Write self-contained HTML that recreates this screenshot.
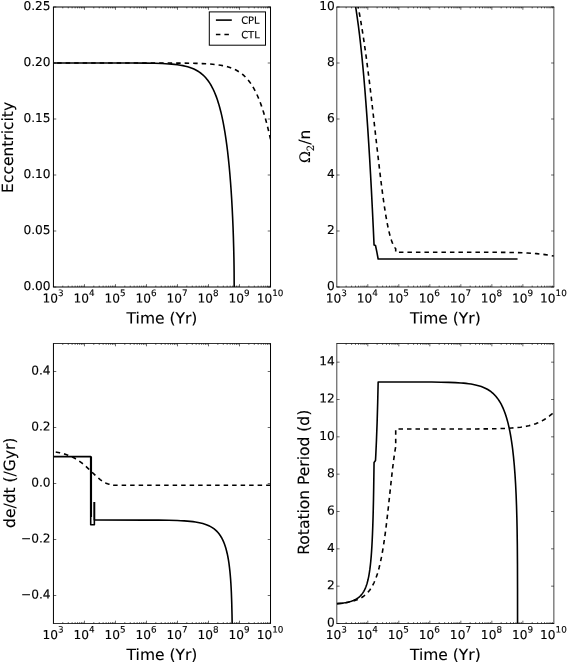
<!DOCTYPE html>
<html><head><meta charset="utf-8"><title>Tidal evolution: CPL vs CTL</title>
<style>html,body{margin:0;padding:0;background:#fff}svg{display:block}</style></head>
<body>
<svg width="568" height="662" viewBox="0 0 568 662" font-family='"DejaVu Sans","Liberation Sans",sans-serif' fill="#000">
<style>text{stroke:#000;stroke-width:0.12px}</style>
<rect width="568" height="662" fill="#fff"/>
<defs>
<clipPath id="c00"><rect x="53.45" y="7.00" width="217.07" height="280.00"/></clipPath>
<clipPath id="c01"><rect x="53.45" y="343.50" width="217.07" height="280.00"/></clipPath>
<clipPath id="c10"><rect x="336.80" y="7.00" width="217.07" height="280.00"/></clipPath>
<clipPath id="c11"><rect x="336.80" y="343.50" width="217.07" height="280.00"/></clipPath>
</defs>
<path d="M53.45 63.00 L119.10 63.02 L134.01 63.07 L144.94 63.16 L154.57 63.32 L162.31 63.57 L165.71 63.74 L168.82 63.93 L171.72 64.15 L174.47 64.41 L177.51 64.77 L180.33 65.18 L182.94 65.65 L185.40 66.19 L187.72 66.79 L189.89 67.46 L191.99 68.22 L193.94 69.05 L195.82 69.97 L197.63 70.99 L199.37 72.11 L200.96 73.27 L202.55 74.59 L204.07 76.02 L205.52 77.54 L206.90 79.16 L207.77 80.27 L208.63 81.47 L209.43 82.64 L210.23 83.89 L211.02 85.22 L211.75 86.52 L212.54 88.03 L213.27 89.49 L213.99 91.04 L214.71 92.70 L216.09 96.13 L217.39 99.79 L218.62 103.65 L219.78 107.69 L220.94 112.19 L222.02 116.89 L223.11 122.11 L224.12 127.54 L225.06 133.12 L225.93 138.82 L226.80 145.11 L227.60 151.50 L228.39 158.58 L229.12 165.74 L229.84 173.72 L230.49 181.77 L231.07 189.78 L231.65 198.82 L232.16 207.85 L232.59 216.70 L233.03 227.03 L233.39 237.36 L233.68 247.54 L233.90 257.28 L234.04 265.93 L234.11 271.81 L234.20 287.00" fill="none" stroke="#000" stroke-width="1.60" stroke-linejoin="round" clip-path="url(#c00)"/>
<path d="M53.45 63.00 L135.67 63.00 L164.05 63.03 L182.94 63.14 L189.89 63.23 L195.82 63.36 L202.12 63.58 L207.62 63.87 L212.47 64.25 L216.74 64.71 L218.77 64.99 L220.65 65.29 L222.53 65.63 L224.27 65.99 L225.93 66.38 L227.60 66.82 L229.12 67.27 L230.64 67.78 L232.52 68.49 L234.26 69.23 L235.99 70.07 L237.66 70.99 L239.25 71.97 L240.77 73.02 L242.29 74.19 L243.74 75.42 L245.11 76.71 L246.49 78.14 L247.79 79.61 L249.10 81.23 L250.33 82.90 L251.56 84.70 L252.79 86.67 L253.94 88.67 L255.10 90.82 L256.26 93.14 L257.35 95.48 L258.43 97.99 L259.52 100.66 L260.53 103.32 L261.62 106.36 L262.63 109.37 L263.64 112.56 L264.66 115.94 L265.67 119.50 L266.61 122.99 L267.62 126.93 L268.57 130.78 L269.51 134.80 L270.52 139.33" fill="none" stroke="#000" stroke-width="1.60" stroke-linejoin="round" stroke-dasharray="4.5 4" stroke-dashoffset="-3.7" clip-path="url(#c00)"/>
<path d="M336.80 -56.00 L337.67 -54.63 L338.54 -53.17 L339.41 -51.61 L340.20 -50.09 L341.00 -48.47 L341.79 -46.76 L342.59 -44.95 L343.39 -43.02 L344.83 -39.21 L346.28 -34.96 L347.66 -30.48 L349.03 -25.52 L350.34 -20.33 L351.57 -14.94 L352.80 -9.03 L353.95 -2.95 L355.11 3.68 L356.20 10.44 L357.28 17.77 L358.37 25.73 L359.53 34.96 L360.61 44.36 L361.70 54.54 L362.78 65.56 L363.80 76.70 L364.81 88.71 L365.82 101.60 L366.84 115.34 L367.78 128.90 L368.72 143.37 L369.66 158.81 L370.53 173.96 L371.47 191.39 L372.34 208.45 L373.21 226.46 L374.06 245.00 L375.50 245.50 L376.83 251.90 L378.16 259.00 L517.55 259.00" fill="none" stroke="#000" stroke-width="1.60" stroke-linejoin="round" clip-path="url(#c10)"/>
<path d="M336.80 -53.92 L338.46 -51.63 L340.06 -49.17 L341.58 -46.56 L343.10 -43.67 L344.54 -40.62 L345.99 -37.27 L347.37 -33.77 L348.67 -30.15 L349.97 -26.22 L351.28 -21.96 L352.58 -17.33 L353.81 -12.62 L355.04 -7.55 L356.20 -2.44 L357.43 3.37 L358.59 9.21 L359.67 15.02 L360.76 21.16 L361.84 27.63 L362.93 34.44 L364.02 41.60 L365.10 49.08 L366.19 56.90 L367.27 65.03 L369.23 80.41 L371.33 97.86 L373.28 114.75 L377.91 155.55 L380.16 174.59 L381.39 184.51 L382.47 192.85 L383.56 200.74 L384.64 208.11 L385.87 215.77 L387.03 222.27 L387.68 225.60 L388.26 228.37 L388.84 230.95 L389.42 233.35 L390.14 236.09 L390.87 238.56 L391.59 240.75 L392.39 242.86 L393.18 244.68 L393.98 246.22 L394.85 247.62 L395.71 248.75 L395.71 252.23 L460.64 252.23 L486.34 252.26 L503.71 252.36 L510.37 252.45 L516.09 252.56 L522.02 252.74 L527.31 252.98 L532.16 253.27 L536.64 253.64 L540.84 254.08 L544.97 254.61 L549.17 255.25 L553.87 256.07" fill="none" stroke="#000" stroke-width="1.60" stroke-linejoin="round" stroke-dasharray="4.5 4" stroke-dashoffset="-2.6" clip-path="url(#c10)"/>
<path d="M53.45 456.62 L90.70 456.62 L90.71 524.80 L94.36 524.80 L94.36 502.12" fill="none" stroke="#000" stroke-width="1.60" stroke-linejoin="round" clip-path="url(#c01)"/>
<path d="M91.26 456.62 L91.26 517.10" fill="none" stroke="#000" stroke-width="1.60" stroke-linejoin="round" clip-path="url(#c01)"/>
<path d="M94.36 502.12 L94.36 520.04 L145.59 520.09 L158.69 520.16 L168.61 520.30 L177.22 520.54 L180.91 520.69 L184.24 520.88 L187.35 521.10 L190.25 521.36 L192.93 521.66 L195.39 522.00 L198.07 522.45 L200.53 522.96 L202.84 523.54 L204.94 524.18 L206.97 524.91 L208.85 525.72 L210.59 526.60 L212.25 527.58 L213.85 528.69 L215.29 529.85 L216.67 531.13 L217.97 532.53 L219.20 534.05 L220.36 535.70 L221.45 537.48 L222.46 539.38 L223.40 541.39 L224.27 543.52 L225.06 545.75 L225.86 548.29 L226.58 550.95 L227.24 553.70 L227.82 556.50 L228.39 559.72 L228.90 562.98 L229.41 566.78 L229.84 570.62 L230.20 574.36 L230.57 578.78 L230.86 582.99 L231.14 588.02 L231.36 592.56 L231.72 602.45 L232.01 614.16 L232.23 627.77 L232.38 642.13 L232.52 668.17 L232.59 695.03 L232.66 779.78" fill="none" stroke="#000" stroke-width="1.60" stroke-linejoin="round" clip-path="url(#c01)"/>
<path d="M53.45 451.65 L56.71 452.18 L59.75 452.78 L62.64 453.48 L65.32 454.26 L67.93 455.16 L70.46 456.18 L72.85 457.30 L75.24 458.58 L77.41 459.89 L79.58 461.35 L81.75 462.95 L83.92 464.70 L85.88 466.39 L87.98 468.30 L94.56 474.63 L96.81 476.72 L99.12 478.72 L100.21 479.59 L101.29 480.40 L102.52 481.24 L103.68 481.95 L104.91 482.62 L106.07 483.17 L107.52 483.74 L109.04 484.21 L110.63 484.58 L112.36 484.85 L112.36 485.24 L270.52 485.24" fill="none" stroke="#000" stroke-width="1.60" stroke-linejoin="round" stroke-dasharray="4.5 4" stroke-dashoffset="-2.3" clip-path="url(#c01)"/>
<path d="M336.80 603.78 L340.93 603.35 L342.81 603.09 L344.54 602.82 L346.21 602.51 L347.73 602.18 L349.25 601.80 L350.62 601.41 L351.93 600.97 L353.16 600.51 L354.32 600.01 L355.47 599.44 L356.49 598.88 L357.50 598.23 L358.44 597.56 L359.38 596.79 L360.25 595.99 L361.05 595.16 L361.77 594.32 L362.50 593.37 L363.15 592.41 L363.80 591.34 L364.45 590.13 L365.03 588.92 L365.61 587.57 L366.11 586.25 L366.62 584.78 L367.13 583.14 L367.56 581.57 L368.00 579.82 L368.43 577.86 L368.79 576.03 L369.37 572.66 L369.88 569.17 L370.31 565.65 L370.75 561.51 L371.18 556.60 L371.54 551.72 L371.90 545.94 L372.19 540.48 L372.48 534.06 L372.77 526.42 L373.06 517.17 L373.28 508.85 L373.50 498.97 L373.71 487.07 L374.06 462.47 L375.50 460.51 L375.81 454.60 L376.46 440.27 L377.12 422.36 L377.70 402.24 L378.16 381.96 L419.97 382.00 L431.69 382.07 L440.81 382.18 L448.77 382.36 L455.36 382.61 L461.01 382.96 L463.61 383.17 L466.00 383.41 L468.61 383.72 L471.07 384.08 L473.31 384.48 L475.48 384.92 L477.51 385.42 L479.46 385.97 L481.27 386.56 L483.01 387.21 L484.67 387.93 L486.27 388.71 L487.79 389.55 L489.31 390.50 L490.68 391.47 L492.06 392.56 L493.36 393.71 L494.59 394.92 L495.82 396.27 L496.98 397.68 L498.06 399.14 L499.15 400.75 L500.16 402.40 L501.18 404.22 L502.12 406.09 L503.06 408.13 L503.93 410.20 L504.80 412.46 L505.59 414.73 L506.39 417.22 L507.11 419.69 L507.84 422.38 L508.56 425.32 L509.21 428.23 L509.86 431.40 L510.44 434.48 L511.02 437.84 L511.60 441.54 L512.11 445.08 L512.61 448.97 L513.48 456.63 L514.28 465.12 L515.00 474.59 L515.58 484.00 L516.09 494.32 L516.52 505.76 L516.88 518.67 L517.10 529.29 L517.32 544.90 L517.46 563.71 L517.53 588.57 L517.55 623.50" fill="none" stroke="#000" stroke-width="1.60" stroke-linejoin="round" clip-path="url(#c11)"/>
<path d="M336.80 603.66 L341.43 603.24 L343.53 602.99 L345.56 602.71 L347.44 602.40 L349.25 602.06 L350.99 601.68 L352.58 601.28 L354.17 600.82 L355.62 600.34 L356.99 599.83 L358.37 599.25 L359.67 598.63 L360.90 597.98 L362.06 597.29 L363.22 596.52 L364.30 595.72 L365.39 594.83 L366.40 593.90 L367.34 592.95 L368.29 591.91 L369.15 590.85 L370.02 589.70 L370.89 588.42 L371.69 587.15 L372.48 585.76 L373.28 584.24 L374.00 582.73 L374.73 581.10 L375.45 579.32 L376.10 577.59 L376.75 575.73 L377.41 573.72 L377.98 571.80 L378.64 569.48 L379.22 567.27 L380.37 562.36 L381.46 557.14 L382.54 551.25 L383.56 545.09 L384.57 538.28 L385.66 530.25 L386.67 522.08 L387.76 512.70 L391.38 479.23 L392.75 467.22 L393.55 460.87 L394.27 455.58 L394.99 450.83 L395.71 446.67 L395.71 429.00 L461.80 428.98 L476.78 428.93 L487.71 428.84 L497.41 428.67 L505.23 428.42 L508.63 428.25 L511.82 428.05 L514.78 427.82 L517.53 427.56 L520.57 427.20 L523.47 426.78 L526.22 426.29 L528.75 425.75 L531.21 425.13 L533.53 424.45 L535.77 423.68 L537.87 422.85 L539.97 421.91 L542.00 420.88 L543.95 419.78 L545.91 418.55 L547.86 417.20 L549.82 415.73 L551.77 414.14 L553.87 412.32" fill="none" stroke="#000" stroke-width="1.60" stroke-linejoin="round" stroke-dasharray="4.5 4" stroke-dashoffset="0" clip-path="url(#c11)"/>
<path d="M84.46 287.00v-2.80M84.46 7.00v2.80M115.47 287.00v-2.80M115.47 7.00v2.80M146.48 287.00v-2.80M146.48 7.00v2.80M177.49 287.00v-2.80M177.49 7.00v2.80M208.50 287.00v-2.80M208.50 7.00v2.80M239.51 287.00v-2.80M239.51 7.00v2.80M53.45 287.00h2.80M270.52 287.00h-2.80M53.45 231.00h2.80M270.52 231.00h-2.80M53.45 175.00h2.80M270.52 175.00h-2.80M53.45 119.00h2.80M270.52 119.00h-2.80M53.45 63.00h2.80M270.52 63.00h-2.80M53.45 7.00h2.80M270.52 7.00h-2.80" stroke="#000" stroke-width="0.60" fill="none"/>
<path d="M62.78 287.00v-1.40M62.78 7.00v1.40M68.25 287.00v-1.40M68.25 7.00v1.40M72.12 287.00v-1.40M72.12 7.00v1.40M75.13 287.00v-1.40M75.13 7.00v1.40M77.58 287.00v-1.40M77.58 7.00v1.40M79.66 287.00v-1.40M79.66 7.00v1.40M81.45 287.00v-1.40M81.45 7.00v1.40M83.04 287.00v-1.40M83.04 7.00v1.40M93.79 287.00v-1.40M93.79 7.00v1.40M99.26 287.00v-1.40M99.26 7.00v1.40M103.13 287.00v-1.40M103.13 7.00v1.40M106.14 287.00v-1.40M106.14 7.00v1.40M108.59 287.00v-1.40M108.59 7.00v1.40M110.67 287.00v-1.40M110.67 7.00v1.40M112.46 287.00v-1.40M112.46 7.00v1.40M114.05 287.00v-1.40M114.05 7.00v1.40M124.80 287.00v-1.40M124.80 7.00v1.40M130.27 287.00v-1.40M130.27 7.00v1.40M134.14 287.00v-1.40M134.14 7.00v1.40M137.15 287.00v-1.40M137.15 7.00v1.40M139.60 287.00v-1.40M139.60 7.00v1.40M141.68 287.00v-1.40M141.68 7.00v1.40M143.47 287.00v-1.40M143.47 7.00v1.40M145.06 287.00v-1.40M145.06 7.00v1.40M155.81 287.00v-1.40M155.81 7.00v1.40M161.28 287.00v-1.40M161.28 7.00v1.40M165.15 287.00v-1.40M165.15 7.00v1.40M168.16 287.00v-1.40M168.16 7.00v1.40M170.61 287.00v-1.40M170.61 7.00v1.40M172.69 287.00v-1.40M172.69 7.00v1.40M174.48 287.00v-1.40M174.48 7.00v1.40M176.07 287.00v-1.40M176.07 7.00v1.40M186.82 287.00v-1.40M186.82 7.00v1.40M192.29 287.00v-1.40M192.29 7.00v1.40M196.16 287.00v-1.40M196.16 7.00v1.40M199.17 287.00v-1.40M199.17 7.00v1.40M201.62 287.00v-1.40M201.62 7.00v1.40M203.70 287.00v-1.40M203.70 7.00v1.40M205.49 287.00v-1.40M205.49 7.00v1.40M207.08 287.00v-1.40M207.08 7.00v1.40M217.83 287.00v-1.40M217.83 7.00v1.40M223.30 287.00v-1.40M223.30 7.00v1.40M227.17 287.00v-1.40M227.17 7.00v1.40M230.18 287.00v-1.40M230.18 7.00v1.40M232.63 287.00v-1.40M232.63 7.00v1.40M234.71 287.00v-1.40M234.71 7.00v1.40M236.50 287.00v-1.40M236.50 7.00v1.40M238.09 287.00v-1.40M238.09 7.00v1.40M248.84 287.00v-1.40M248.84 7.00v1.40M254.31 287.00v-1.40M254.31 7.00v1.40M258.18 287.00v-1.40M258.18 7.00v1.40M261.19 287.00v-1.40M261.19 7.00v1.40M263.64 287.00v-1.40M263.64 7.00v1.40M265.72 287.00v-1.40M265.72 7.00v1.40M267.51 287.00v-1.40M267.51 7.00v1.40M269.10 287.00v-1.40M269.10 7.00v1.40" stroke="#000" stroke-width="0.60" fill="none"/>
<path d="M52.95 7.00H271.02M52.95 287.00H271.02" stroke="#000" stroke-width="1.00" fill="none"/>
<path d="M53.45 7.00V287.00M270.52 7.00V287.00" stroke="#000" stroke-width="1.00" fill="none"/>
<path d="M367.81 287.00v-2.80M367.81 7.00v2.80M398.82 287.00v-2.80M398.82 7.00v2.80M429.83 287.00v-2.80M429.83 7.00v2.80M460.84 287.00v-2.80M460.84 7.00v2.80M491.85 287.00v-2.80M491.85 7.00v2.80M522.86 287.00v-2.80M522.86 7.00v2.80M336.80 287.00h2.80M553.87 287.00h-2.80M336.80 231.00h2.80M553.87 231.00h-2.80M336.80 175.00h2.80M553.87 175.00h-2.80M336.80 119.00h2.80M553.87 119.00h-2.80M336.80 63.00h2.80M553.87 63.00h-2.80M336.80 7.00h2.80M553.87 7.00h-2.80" stroke="#000" stroke-width="0.60" fill="none"/>
<path d="M346.13 287.00v-1.40M346.13 7.00v1.40M351.60 287.00v-1.40M351.60 7.00v1.40M355.47 287.00v-1.40M355.47 7.00v1.40M358.48 287.00v-1.40M358.48 7.00v1.40M360.93 287.00v-1.40M360.93 7.00v1.40M363.01 287.00v-1.40M363.01 7.00v1.40M364.80 287.00v-1.40M364.80 7.00v1.40M366.39 287.00v-1.40M366.39 7.00v1.40M377.14 287.00v-1.40M377.14 7.00v1.40M382.61 287.00v-1.40M382.61 7.00v1.40M386.48 287.00v-1.40M386.48 7.00v1.40M389.49 287.00v-1.40M389.49 7.00v1.40M391.94 287.00v-1.40M391.94 7.00v1.40M394.02 287.00v-1.40M394.02 7.00v1.40M395.81 287.00v-1.40M395.81 7.00v1.40M397.40 287.00v-1.40M397.40 7.00v1.40M408.15 287.00v-1.40M408.15 7.00v1.40M413.62 287.00v-1.40M413.62 7.00v1.40M417.49 287.00v-1.40M417.49 7.00v1.40M420.50 287.00v-1.40M420.50 7.00v1.40M422.95 287.00v-1.40M422.95 7.00v1.40M425.03 287.00v-1.40M425.03 7.00v1.40M426.82 287.00v-1.40M426.82 7.00v1.40M428.41 287.00v-1.40M428.41 7.00v1.40M439.16 287.00v-1.40M439.16 7.00v1.40M444.63 287.00v-1.40M444.63 7.00v1.40M448.50 287.00v-1.40M448.50 7.00v1.40M451.51 287.00v-1.40M451.51 7.00v1.40M453.96 287.00v-1.40M453.96 7.00v1.40M456.04 287.00v-1.40M456.04 7.00v1.40M457.83 287.00v-1.40M457.83 7.00v1.40M459.42 287.00v-1.40M459.42 7.00v1.40M470.17 287.00v-1.40M470.17 7.00v1.40M475.64 287.00v-1.40M475.64 7.00v1.40M479.51 287.00v-1.40M479.51 7.00v1.40M482.52 287.00v-1.40M482.52 7.00v1.40M484.97 287.00v-1.40M484.97 7.00v1.40M487.05 287.00v-1.40M487.05 7.00v1.40M488.84 287.00v-1.40M488.84 7.00v1.40M490.43 287.00v-1.40M490.43 7.00v1.40M501.18 287.00v-1.40M501.18 7.00v1.40M506.65 287.00v-1.40M506.65 7.00v1.40M510.52 287.00v-1.40M510.52 7.00v1.40M513.53 287.00v-1.40M513.53 7.00v1.40M515.98 287.00v-1.40M515.98 7.00v1.40M518.06 287.00v-1.40M518.06 7.00v1.40M519.85 287.00v-1.40M519.85 7.00v1.40M521.44 287.00v-1.40M521.44 7.00v1.40M532.19 287.00v-1.40M532.19 7.00v1.40M537.66 287.00v-1.40M537.66 7.00v1.40M541.53 287.00v-1.40M541.53 7.00v1.40M544.54 287.00v-1.40M544.54 7.00v1.40M546.99 287.00v-1.40M546.99 7.00v1.40M549.07 287.00v-1.40M549.07 7.00v1.40M550.86 287.00v-1.40M550.86 7.00v1.40M552.45 287.00v-1.40M552.45 7.00v1.40" stroke="#000" stroke-width="0.60" fill="none"/>
<path d="M336.43 7.00H554.24M336.43 287.00H554.24" stroke="#000" stroke-width="0.86" fill="none"/>
<path d="M336.80 7.00V287.00M553.87 7.00V287.00" stroke="#000" stroke-width="0.74" fill="none"/>
<path d="M84.46 623.50v-2.80M84.46 343.50v2.80M115.47 623.50v-2.80M115.47 343.50v2.80M146.48 623.50v-2.80M146.48 343.50v2.80M177.49 623.50v-2.80M177.49 343.50v2.80M208.50 623.50v-2.80M208.50 343.50v2.80M239.51 623.50v-2.80M239.51 343.50v2.80M53.45 595.50h2.80M270.52 595.50h-2.80M53.45 539.50h2.80M270.52 539.50h-2.80M53.45 483.50h2.80M270.52 483.50h-2.80M53.45 427.50h2.80M270.52 427.50h-2.80M53.45 371.50h2.80M270.52 371.50h-2.80" stroke="#000" stroke-width="0.60" fill="none"/>
<path d="M62.78 623.50v-1.40M62.78 343.50v1.40M68.25 623.50v-1.40M68.25 343.50v1.40M72.12 623.50v-1.40M72.12 343.50v1.40M75.13 623.50v-1.40M75.13 343.50v1.40M77.58 623.50v-1.40M77.58 343.50v1.40M79.66 623.50v-1.40M79.66 343.50v1.40M81.45 623.50v-1.40M81.45 343.50v1.40M83.04 623.50v-1.40M83.04 343.50v1.40M93.79 623.50v-1.40M93.79 343.50v1.40M99.26 623.50v-1.40M99.26 343.50v1.40M103.13 623.50v-1.40M103.13 343.50v1.40M106.14 623.50v-1.40M106.14 343.50v1.40M108.59 623.50v-1.40M108.59 343.50v1.40M110.67 623.50v-1.40M110.67 343.50v1.40M112.46 623.50v-1.40M112.46 343.50v1.40M114.05 623.50v-1.40M114.05 343.50v1.40M124.80 623.50v-1.40M124.80 343.50v1.40M130.27 623.50v-1.40M130.27 343.50v1.40M134.14 623.50v-1.40M134.14 343.50v1.40M137.15 623.50v-1.40M137.15 343.50v1.40M139.60 623.50v-1.40M139.60 343.50v1.40M141.68 623.50v-1.40M141.68 343.50v1.40M143.47 623.50v-1.40M143.47 343.50v1.40M145.06 623.50v-1.40M145.06 343.50v1.40M155.81 623.50v-1.40M155.81 343.50v1.40M161.28 623.50v-1.40M161.28 343.50v1.40M165.15 623.50v-1.40M165.15 343.50v1.40M168.16 623.50v-1.40M168.16 343.50v1.40M170.61 623.50v-1.40M170.61 343.50v1.40M172.69 623.50v-1.40M172.69 343.50v1.40M174.48 623.50v-1.40M174.48 343.50v1.40M176.07 623.50v-1.40M176.07 343.50v1.40M186.82 623.50v-1.40M186.82 343.50v1.40M192.29 623.50v-1.40M192.29 343.50v1.40M196.16 623.50v-1.40M196.16 343.50v1.40M199.17 623.50v-1.40M199.17 343.50v1.40M201.62 623.50v-1.40M201.62 343.50v1.40M203.70 623.50v-1.40M203.70 343.50v1.40M205.49 623.50v-1.40M205.49 343.50v1.40M207.08 623.50v-1.40M207.08 343.50v1.40M217.83 623.50v-1.40M217.83 343.50v1.40M223.30 623.50v-1.40M223.30 343.50v1.40M227.17 623.50v-1.40M227.17 343.50v1.40M230.18 623.50v-1.40M230.18 343.50v1.40M232.63 623.50v-1.40M232.63 343.50v1.40M234.71 623.50v-1.40M234.71 343.50v1.40M236.50 623.50v-1.40M236.50 343.50v1.40M238.09 623.50v-1.40M238.09 343.50v1.40M248.84 623.50v-1.40M248.84 343.50v1.40M254.31 623.50v-1.40M254.31 343.50v1.40M258.18 623.50v-1.40M258.18 343.50v1.40M261.19 623.50v-1.40M261.19 343.50v1.40M263.64 623.50v-1.40M263.64 343.50v1.40M265.72 623.50v-1.40M265.72 343.50v1.40M267.51 623.50v-1.40M267.51 343.50v1.40M269.10 623.50v-1.40M269.10 343.50v1.40" stroke="#000" stroke-width="0.60" fill="none"/>
<path d="M52.95 343.50H271.02M52.95 623.50H271.02" stroke="#000" stroke-width="0.80" fill="none"/>
<path d="M53.45 343.50V623.50M270.52 343.50V623.50" stroke="#000" stroke-width="1.00" fill="none"/>
<path d="M367.81 623.50v-2.80M367.81 343.50v2.80M398.82 623.50v-2.80M398.82 343.50v2.80M429.83 623.50v-2.80M429.83 343.50v2.80M460.84 623.50v-2.80M460.84 343.50v2.80M491.85 623.50v-2.80M491.85 343.50v2.80M522.86 623.50v-2.80M522.86 343.50v2.80M336.80 623.50h2.80M553.87 623.50h-2.80M336.80 586.17h2.80M553.87 586.17h-2.80M336.80 548.83h2.80M553.87 548.83h-2.80M336.80 511.50h2.80M553.87 511.50h-2.80M336.80 474.17h2.80M553.87 474.17h-2.80M336.80 436.83h2.80M553.87 436.83h-2.80M336.80 399.50h2.80M553.87 399.50h-2.80M336.80 362.17h2.80M553.87 362.17h-2.80" stroke="#000" stroke-width="0.60" fill="none"/>
<path d="M346.13 623.50v-1.40M346.13 343.50v1.40M351.60 623.50v-1.40M351.60 343.50v1.40M355.47 623.50v-1.40M355.47 343.50v1.40M358.48 623.50v-1.40M358.48 343.50v1.40M360.93 623.50v-1.40M360.93 343.50v1.40M363.01 623.50v-1.40M363.01 343.50v1.40M364.80 623.50v-1.40M364.80 343.50v1.40M366.39 623.50v-1.40M366.39 343.50v1.40M377.14 623.50v-1.40M377.14 343.50v1.40M382.61 623.50v-1.40M382.61 343.50v1.40M386.48 623.50v-1.40M386.48 343.50v1.40M389.49 623.50v-1.40M389.49 343.50v1.40M391.94 623.50v-1.40M391.94 343.50v1.40M394.02 623.50v-1.40M394.02 343.50v1.40M395.81 623.50v-1.40M395.81 343.50v1.40M397.40 623.50v-1.40M397.40 343.50v1.40M408.15 623.50v-1.40M408.15 343.50v1.40M413.62 623.50v-1.40M413.62 343.50v1.40M417.49 623.50v-1.40M417.49 343.50v1.40M420.50 623.50v-1.40M420.50 343.50v1.40M422.95 623.50v-1.40M422.95 343.50v1.40M425.03 623.50v-1.40M425.03 343.50v1.40M426.82 623.50v-1.40M426.82 343.50v1.40M428.41 623.50v-1.40M428.41 343.50v1.40M439.16 623.50v-1.40M439.16 343.50v1.40M444.63 623.50v-1.40M444.63 343.50v1.40M448.50 623.50v-1.40M448.50 343.50v1.40M451.51 623.50v-1.40M451.51 343.50v1.40M453.96 623.50v-1.40M453.96 343.50v1.40M456.04 623.50v-1.40M456.04 343.50v1.40M457.83 623.50v-1.40M457.83 343.50v1.40M459.42 623.50v-1.40M459.42 343.50v1.40M470.17 623.50v-1.40M470.17 343.50v1.40M475.64 623.50v-1.40M475.64 343.50v1.40M479.51 623.50v-1.40M479.51 343.50v1.40M482.52 623.50v-1.40M482.52 343.50v1.40M484.97 623.50v-1.40M484.97 343.50v1.40M487.05 623.50v-1.40M487.05 343.50v1.40M488.84 623.50v-1.40M488.84 343.50v1.40M490.43 623.50v-1.40M490.43 343.50v1.40M501.18 623.50v-1.40M501.18 343.50v1.40M506.65 623.50v-1.40M506.65 343.50v1.40M510.52 623.50v-1.40M510.52 343.50v1.40M513.53 623.50v-1.40M513.53 343.50v1.40M515.98 623.50v-1.40M515.98 343.50v1.40M518.06 623.50v-1.40M518.06 343.50v1.40M519.85 623.50v-1.40M519.85 343.50v1.40M521.44 623.50v-1.40M521.44 343.50v1.40M532.19 623.50v-1.40M532.19 343.50v1.40M537.66 623.50v-1.40M537.66 343.50v1.40M541.53 623.50v-1.40M541.53 343.50v1.40M544.54 623.50v-1.40M544.54 343.50v1.40M546.99 623.50v-1.40M546.99 343.50v1.40M549.07 623.50v-1.40M549.07 343.50v1.40M550.86 623.50v-1.40M550.86 343.50v1.40M552.45 623.50v-1.40M552.45 343.50v1.40" stroke="#000" stroke-width="0.60" fill="none"/>
<path d="M336.43 343.50H554.24M336.43 623.50H554.24" stroke="#000" stroke-width="0.80" fill="none"/>
<path d="M336.80 343.50V623.50M553.87 343.50V623.50" stroke="#000" stroke-width="0.74" fill="none"/>
<rect x="209.3" y="11.9" width="56.2" height="33.3" fill="#fff" stroke="#000" stroke-width="1"/>
<path d="M215.9 20.1H231.8" stroke="#000" stroke-width="1.60"/>
<path d="M215.9 34.5H231.8" stroke="#000" stroke-width="1.60" stroke-dasharray="4.5 4"/>
<g transform="matrix(1 0.0005 0 1 0 0)">
<text x="42.49" y="302.38" font-size="12.2">10<tspan dy="-6.4" font-size="8.8">3</tspan></text>
<text x="73.50" y="302.36" font-size="12.2">10<tspan dy="-6.4" font-size="8.8">4</tspan></text>
<text x="104.51" y="302.35" font-size="12.2">10<tspan dy="-6.4" font-size="8.8">5</tspan></text>
<text x="135.52" y="302.33" font-size="12.2">10<tspan dy="-6.4" font-size="8.8">6</tspan></text>
<text x="166.53" y="302.32" font-size="12.2">10<tspan dy="-6.4" font-size="8.8">7</tspan></text>
<text x="197.54" y="302.30" font-size="12.2">10<tspan dy="-6.4" font-size="8.8">8</tspan></text>
<text x="228.55" y="302.29" font-size="12.2">10<tspan dy="-6.4" font-size="8.8">9</tspan></text>
<text x="256.76" y="302.27" font-size="12.2">10<tspan dy="-6.4" font-size="8.8">10</tspan></text>
<text x="50.55" y="290.07" font-size="12.2" text-anchor="end">0.00</text>
<text x="50.55" y="234.07" font-size="12.2" text-anchor="end">0.05</text>
<text x="50.55" y="178.07" font-size="12.2" text-anchor="end">0.10</text>
<text x="50.55" y="122.07" font-size="12.2" text-anchor="end">0.15</text>
<text x="50.55" y="66.07" font-size="12.2" text-anchor="end">0.20</text>
<text x="50.55" y="10.07" font-size="12.2" text-anchor="end">0.25</text>
<text x="161.98" y="323.52" font-size="15.5" text-anchor="middle">Time (Yr)</text>
<text transform="translate(12.60 147.39) rotate(-90)" font-size="15.5" text-anchor="middle">Eccentricity</text>
<text x="325.84" y="302.24" font-size="12.2">10<tspan dy="-6.4" font-size="8.8">3</tspan></text>
<text x="356.85" y="302.22" font-size="12.2">10<tspan dy="-6.4" font-size="8.8">4</tspan></text>
<text x="387.86" y="302.21" font-size="12.2">10<tspan dy="-6.4" font-size="8.8">5</tspan></text>
<text x="418.87" y="302.19" font-size="12.2">10<tspan dy="-6.4" font-size="8.8">6</tspan></text>
<text x="449.88" y="302.18" font-size="12.2">10<tspan dy="-6.4" font-size="8.8">7</tspan></text>
<text x="480.89" y="302.16" font-size="12.2">10<tspan dy="-6.4" font-size="8.8">8</tspan></text>
<text x="511.90" y="302.14" font-size="12.2">10<tspan dy="-6.4" font-size="8.8">9</tspan></text>
<text x="540.11" y="302.13" font-size="12.2">10<tspan dy="-6.4" font-size="8.8">10</tspan></text>
<text x="334.80" y="289.93" font-size="12.2" text-anchor="end">0</text>
<text x="334.80" y="233.93" font-size="12.2" text-anchor="end">2</text>
<text x="334.80" y="177.93" font-size="12.2" text-anchor="end">4</text>
<text x="334.80" y="121.93" font-size="12.2" text-anchor="end">6</text>
<text x="334.80" y="65.93" font-size="12.2" text-anchor="end">8</text>
<text x="334.80" y="9.93" font-size="12.2" text-anchor="end">10</text>
<text x="445.34" y="323.38" font-size="15.5" text-anchor="middle">Time (Yr)</text>
<text transform="translate(309.90 146.25) rotate(-90)" font-size="15.5" text-anchor="middle"><tspan font-family="DejaVu Serif,Liberation Serif,serif" font-size="14.4">&#937;</tspan><tspan dy="4.2" font-family="DejaVu Serif,Liberation Serif,serif" font-size="10">2</tspan><tspan dy="-4.2">/n</tspan></text>
<text x="42.49" y="638.88" font-size="12.2">10<tspan dy="-6.4" font-size="8.8">3</tspan></text>
<text x="73.50" y="638.86" font-size="12.2">10<tspan dy="-6.4" font-size="8.8">4</tspan></text>
<text x="104.51" y="638.85" font-size="12.2">10<tspan dy="-6.4" font-size="8.8">5</tspan></text>
<text x="135.52" y="638.83" font-size="12.2">10<tspan dy="-6.4" font-size="8.8">6</tspan></text>
<text x="166.53" y="638.82" font-size="12.2">10<tspan dy="-6.4" font-size="8.8">7</tspan></text>
<text x="197.54" y="638.80" font-size="12.2">10<tspan dy="-6.4" font-size="8.8">8</tspan></text>
<text x="228.55" y="638.79" font-size="12.2">10<tspan dy="-6.4" font-size="8.8">9</tspan></text>
<text x="256.76" y="638.77" font-size="12.2">10<tspan dy="-6.4" font-size="8.8">10</tspan></text>
<text x="50.55" y="598.57" font-size="12.2" text-anchor="end">&#8722;0.4</text>
<text x="50.55" y="542.57" font-size="12.2" text-anchor="end">&#8722;0.2</text>
<text x="50.55" y="486.57" font-size="12.2" text-anchor="end">0.0</text>
<text x="50.55" y="430.57" font-size="12.2" text-anchor="end">0.2</text>
<text x="50.55" y="374.57" font-size="12.2" text-anchor="end">0.4</text>
<text x="161.98" y="660.02" font-size="15.5" text-anchor="middle">Time (Yr)</text>
<text transform="translate(14.50 482.79) rotate(-90)" font-size="15.5" text-anchor="middle">de/dt (/Gyr)</text>
<text x="325.84" y="638.74" font-size="12.2">10<tspan dy="-6.4" font-size="8.8">3</tspan></text>
<text x="356.85" y="638.72" font-size="12.2">10<tspan dy="-6.4" font-size="8.8">4</tspan></text>
<text x="387.86" y="638.71" font-size="12.2">10<tspan dy="-6.4" font-size="8.8">5</tspan></text>
<text x="418.87" y="638.69" font-size="12.2">10<tspan dy="-6.4" font-size="8.8">6</tspan></text>
<text x="449.88" y="638.68" font-size="12.2">10<tspan dy="-6.4" font-size="8.8">7</tspan></text>
<text x="480.89" y="638.66" font-size="12.2">10<tspan dy="-6.4" font-size="8.8">8</tspan></text>
<text x="511.90" y="638.64" font-size="12.2">10<tspan dy="-6.4" font-size="8.8">9</tspan></text>
<text x="540.11" y="638.63" font-size="12.2">10<tspan dy="-6.4" font-size="8.8">10</tspan></text>
<text x="334.80" y="626.43" font-size="12.2" text-anchor="end">0</text>
<text x="334.80" y="589.10" font-size="12.2" text-anchor="end">2</text>
<text x="334.80" y="551.77" font-size="12.2" text-anchor="end">4</text>
<text x="334.80" y="514.43" font-size="12.2" text-anchor="end">6</text>
<text x="334.80" y="477.10" font-size="12.2" text-anchor="end">8</text>
<text x="334.80" y="439.77" font-size="12.2" text-anchor="end">10</text>
<text x="334.80" y="402.43" font-size="12.2" text-anchor="end">12</text>
<text x="334.80" y="365.10" font-size="12.2" text-anchor="end">14</text>
<text x="445.34" y="659.88" font-size="15.5" text-anchor="middle">Time (Yr)</text>
<text transform="translate(308.70 482.10) rotate(-90)" font-size="15.5" text-anchor="middle">Rotation Period (d)</text>
<text x="241.2" y="23.58" font-size="9.9">CPL</text>
<text x="241.2" y="38.08" font-size="9.9">CTL</text>
</g>
</svg>
</body></html>
